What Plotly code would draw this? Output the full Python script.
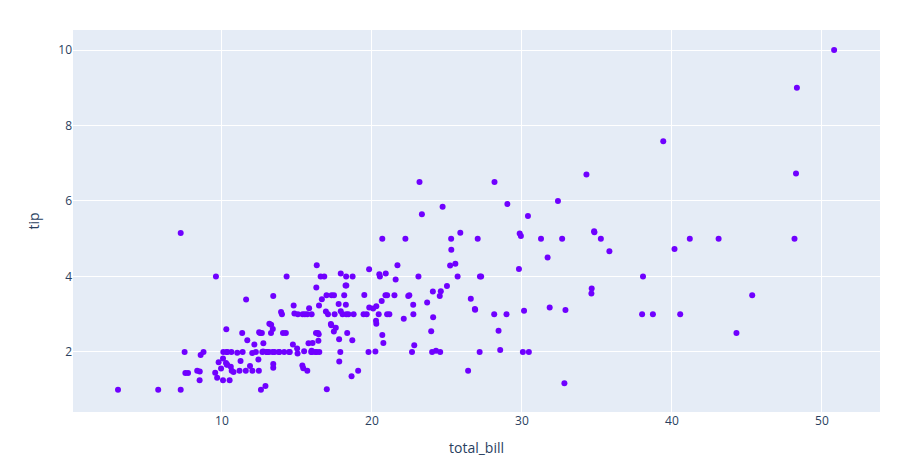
import plotly.graph_objects as go

total_bill = [16.99,10.34,21.01,23.68,24.59,25.29,8.77,26.88,15.04,14.78,10.27,35.26,15.42,18.43,14.83,21.58,10.33,16.29,16.97,20.65,
17.92,20.29,15.77,39.42,19.82,17.81,13.37,12.69,21.7,19.65,9.55,18.35,15.06,20.69,17.78,24.06,16.31,16.93,18.69,31.27,
16.04,17.46,13.94,9.68,30.4,18.29,22.23,32.4,28.55,18.04,12.54,10.29,34.81,9.94,25.56,19.49,38.01,26.41,11.24,48.27,
20.29,13.81,11.02,18.29,17.59,20.08,16.45,3.07,20.23,15.01,12.02,17.07,26.86,25.28,14.73,10.51,17.92,27.2,22.76,17.29,
19.44,16.66,10.07,32.68,15.98,34.83,13.03,18.28,24.71,21.16,28.97,22.49,5.75,16.32,22.75,40.17,27.28,12.03,21.01,12.46,
11.35,15.38,44.3,22.42,20.92,15.36,20.49,25.21,18.24,14.31,14.0,7.25,38.07,23.95,25.71,17.31,29.93,10.65,12.43,24.08,
11.69,13.42,14.26,15.95,12.48,29.8,8.52,14.52,11.38,22.82,19.08,20.27,11.17,12.26,18.26,8.51,10.33,14.15,16.0,13.16,
17.47,34.3,41.19,27.05,16.43,8.35,18.64,11.87,9.78,7.51,14.07,13.13,17.26,24.55,19.77,29.85,48.17,25.0,13.39,16.49,
21.5,12.66,16.21,13.81,17.51,24.52,20.76,31.71,10.59,10.63,50.81,15.81,7.25,31.85,16.82,32.9,17.89,14.48,9.6,34.63,
34.65,23.33,45.35,23.17,40.55,20.69,20.9,30.46,18.15,23.1,15.69,19.81,28.44,15.48,16.58,7.56,10.34,43.11,13.0,13.51,
18.71,12.74,13.0,16.4,20.53,16.47,26.59,38.73,24.27,12.76,30.06,25.89,48.33,13.27,28.17,12.9,28.15,11.59,7.74,30.14,
12.16,13.42,8.58,15.98,13.42,16.27,10.09,20.45,13.28,22.12,24.01,15.69,11.61,10.77,15.53,10.07,12.6,32.83,35.83,29.03,
27.18,22.67,17.82,18.78]

tip = [1.01,1.66,3.5,3.31,3.61,4.71,2.0,3.12,1.96,3.23,1.71,5.0,1.57,3.0,3.02,3.92,1.67,3.71,3.5,3.35,
4.08,2.75,2.23,7.58,3.18,2.34,2.0,2.0,4.3,3.0,1.45,2.5,3.0,2.45,3.27,3.6,2.0,3.07,2.31,5.0,
2.24,2.54,3.06,1.32,5.6,3.0,5.0,6.0,2.05,3.0,2.5,2.6,5.2,1.56,4.34,3.51,3.0,1.5,1.76,6.73,
3.21,2.0,1.98,3.76,2.64,3.15,2.47,1.0,2.01,2.09,1.97,3.0,3.14,5.0,2.2,1.25,3.08,4.0,3.0,2.71,
3.0,3.4,1.83,5.0,2.03,5.17,2.0,4.0,5.85,3.0,3.0,3.5,1.0,4.3,3.25,4.73,4.0,1.5,3.0,1.5,
2.5,3.0,2.5,3.48,4.08,1.64,4.06,4.29,3.76,4.0,3.0,1.0,4.0,2.55,4.0,3.5,5.07,1.5,1.8,2.92,
2.31,1.68,2.5,2.0,2.52,4.2,1.48,2.0,2.0,2.18,1.5,2.83,1.5,2.0,3.25,1.25,2.0,2.0,2.0,2.75,
3.5,6.7,5.0,5.0,2.3,1.5,1.36,1.63,1.73,2.0,2.5,2.0,2.74,2.0,2.0,5.14,5.0,3.75,2.61,2.0,
3.5,2.5,2.0,2.0,3.0,3.48,2.24,4.5,1.61,2.0,10.0,3.16,5.15,3.18,4.0,3.11,2.0,2.0,4.0,3.55,
3.68,5.65,3.5,6.5,3.0,5.0,3.5,2.0,3.5,4.0,1.5,4.19,2.56,2.02,4.0,1.44,2.0,5.0,2.0,2.0,
4.0,2.01,2.0,2.5,4.0,3.23,3.41,3.0,2.03,2.23,2.0,5.16,9.0,2.5,6.5,1.1,3.0,1.5,1.44,3.09,
2.2,3.48,1.92,3.0,1.58,2.5,2.0,3.0,2.72,2.88,2.0,3.0,3.39,1.47,3.0,1.25,1.0,1.17,4.67,5.92,
2.0,2.0,1.75,3.0]

fig = go.Figure(go.Scatter(x=total_bill, y=tip, mode="markers",
                           marker=dict(color="#7000ff", size=6)))
fig.update_layout(
    width=912, height=470,
    margin=dict(l=65, r=40, t=22, b=66),
    xaxis_title="total_bill", yaxis_title="tip",
    xaxis=dict(range=[0.07, 53.87], zeroline=False),
    yaxis=dict(range=[0.41, 10.53], zeroline=False, dtick=2),
)
fig.write_html("out.html")
